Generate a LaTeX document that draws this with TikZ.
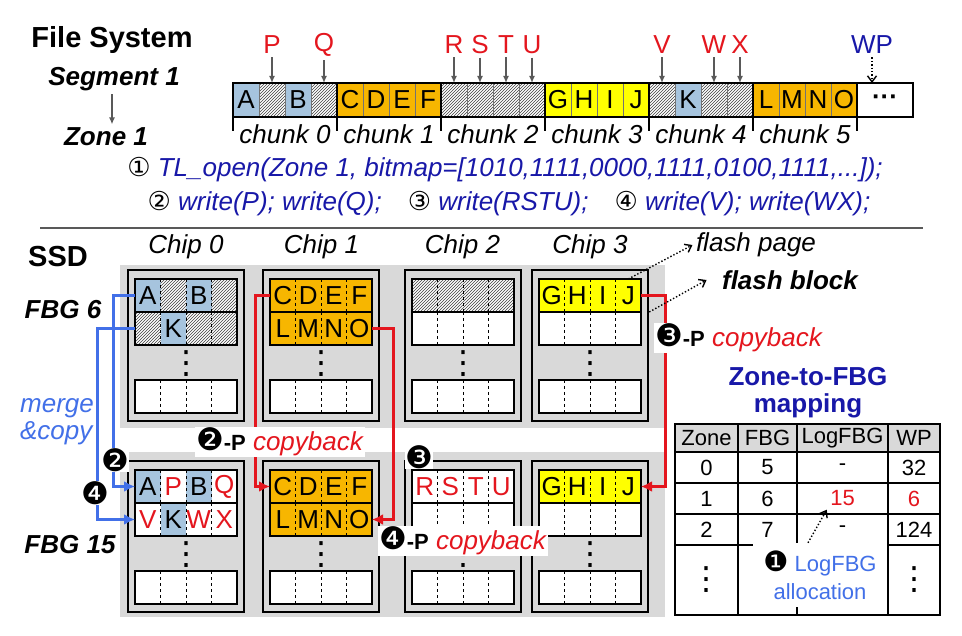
\documentclass[tikz,border=0pt]{standalone}
\usepackage{fontspec}
\setmainfont{Liberation Sans}
\newfontfamily\symf{DejaVu Sans}
\usetikzlibrary{arrows.meta,patterns}

\definecolor{cblue}{RGB}{166,196,222}
\definecolor{corange}{RGB}{247,182,0}
\definecolor{cyellow}{RGB}{255,255,0}
\definecolor{cband}{RGB}{217,217,217}
\definecolor{cred}{RGB}{228,22,30}
\definecolor{cnavy}{RGB}{24,24,168}
\definecolor{cmerge}{RGB}{66,112,232}

\newcommand\fsz{\fontsize{26}{27}\selectfont}
\newcommand\vdts{{\fontsize{32}{32}\selectfont\symf ⋮}}

\tikzset{
  cell/.style={minimum width=25.5, minimum height=33, inner sep=0, outer sep=0, font=\fsz},
  bcell/.style={cell, draw=black!55, line width=1pt, minimum width=26, minimum height=34},
  bl/.style={fill=cblue},
  or/.style={fill=corange},
  ye/.style={fill=cyellow},
  em/.style={fill=white},
  rd/.style={fill=white, text=cred},
  ht/.style={preaction={fill=white}, pattern=north east lines, pattern color=black!75},
  block/.style={draw, line width=2.5pt, minimum width=116, minimum height=151, inner sep=0},
  title/.style={font=\fontsize{29}{30}\selectfont\bfseries},
  bi/.style={font=\fsz\bfseries\itshape},
  it/.style={font=\fsz\itshape},
  garrow/.style={draw=black!65, line width=1.4pt, -{Latex[length=7pt,width=6pt]}},
  dotarr/.style={dotted, line width=1.4pt, -{Straight Barb[length=6pt,width=9pt]}},
  bluearr/.style={draw=cmerge, line width=3pt, -{Latex[length=11pt,width=11pt]}},
  redarr/.style={draw=cred, line width=3pt, -{Latex[length=11pt,width=11pt]}},
  num/.style={font=\fontsize{31}{31}\selectfont\symf, fill=white, inner sep=0},
  cbk/.style={fill=white, inner sep=1pt},
  tline/.style={line width=1.5pt},
  tcell/.style={font=\fontsize{22}{24}\selectfont},
}

% one row of four flash pages: name, x left, y top, cells
\newcommand\pagerow[4]{%
  \foreach \lbl/\sty [count=\i] in {#4}
    \node[cell,\sty] (#1-\i) at ({#2+(\i-0.5)*25.5},{#3+16.5}) {\lbl};
  \foreach \i in {1,2,3}
    \draw[dashed, line width=0.8pt] (#1-\i.north east) -- (#1-\i.south east);
  \draw[line width=1.5pt] (#1-1.north west) rectangle (#1-4.south east);
}

% one flash block with two used rows, dots and a last row
\newcommand\flashblk[5]{%
  \node[block] (#1) at ({#2+58},{#3+75.5}) {};
  \pagerow{#1a}{#2+7}{#3+9}{#4}
  \pagerow{#1b}{#2+7}{#3+42}{#5}
  \node[inner sep=0] (#1d) at ({#2+58},{#3+94}) {\vdts};
  \pagerow{#1c}{#2+7}{#3+110}{/em,/em,/em,/em}
}

\begin{document}
\begin{tikzpicture}[x=1pt, y=-1pt, font=\fsz]
        \useasboundingbox (0,0) rectangle (962,636);
        \fill[white] (0,0) rectangle (962,636);

        % File system side
        \node[title] (fs) at (112,40) {File System};
        \node[bi] (seg) at (114,79) {Segment 1};
        \node[bi] (zn) at (106,137) {Zone 1};
        \draw[garrow] ([xshift=-2pt]seg.south) -- ([xshift=6pt]zn.north);

        % Segment (chunks)
        \foreach \lbl/\sty [count=\i] in {A/bl,/ht,B/bl,/ht,C/or,D/or,E/or,F/or,/ht,/ht,/ht,/ht,G/ye,H/ye,I/ye,J/ye,/ht,K/bl,/ht,/ht,L/or,M/or,N/or,O/or}
          \node[bcell,\sty] (b\i) at ({233+(\i-0.5)*26},100) {\lbl};
        \node[bcell, fill=white, minimum width=56] (bdots) at (885,100) {\textbf{···}};
        \draw[line width=1.8pt] (b1.north west) rectangle (bdots.south east);
        \foreach \i in {1,5,9,13,17,21}
          \draw[line width=1.8pt] (b\i.north west) -- (b\i.south west) -- ++(0,14);
        \draw[line width=1.8pt] (b24.north east) -- (b24.south east) -- ++(0,14);
        \foreach \k in {0,...,5}
          \node[it] (ck\k) at ({285+104*\k},134) {chunk \k};

        % Writes
        \foreach \lbl/\c in {P/2,Q/4,R/9,S/10,T/11,U/12,V/17,W/19,X/20}{
          \node[text=cred] (l\lbl) at ({233+(\c-0.5)*26},45) {\lbl};
          \draw[garrow] (l\lbl) -- (b\c.north);
        }
        \node[text=cnavy] (wp) at (872,45) {WP};
        \draw[dotarr] (wp.south) -- (wp.south |- bdots.north);

        % Commands
        \node (op1) at (505,170) {{\symf ①} \textcolor{cnavy}{\textit{TL\_open(Zone 1, bitmap=[1010,1111,0000,1111,0100,1111,...]);}}};
        \node (op2) at (509,204) {{\symf ②} \textcolor{cnavy}{\textit{write(P); write(Q);}}\quad{\symf ③} \textcolor{cnavy}{\textit{write(RSTU);}}\quad{\symf ④} \textcolor{cnavy}{\textit{write(V); write(WX);}}};

        \draw[line width=2pt, black!65] (40,228) -- (923,228);

        % SSD side
        \node[title] (ssd) at (58,257) {SSD};
        \fill[cband] (120,265) rectangle (665,428);
        \fill[cband] (120,452) rectangle (665,617);
        \foreach \k/\x in {0/186,1/321.5,2/462.5,3/590}
          \node[it] (cl\k) at (\x,247) {Chip \k};
        \node[bi] (g6) at (63,310) {FBG 6};
        \node[bi] (g15) at (70,545) {FBG 15};

        % FBG 6
        \flashblk{t0}{128}{270}{A/bl,/ht,B/bl,/ht}{/ht,K/bl,/ht,/ht}
        \flashblk{t1}{263}{270}{C/or,D/or,E/or,F/or}{L/or,M/or,N/or,O/or}
        \flashblk{t2}{405}{270}{/ht,/ht,/ht,/ht}{/em,/em,/em,/em}
        \flashblk{t3}{532}{270}{G/ye,H/ye,I/ye,J/ye}{/em,/em,/em,/em}
        % FBG 15
        \flashblk{u0}{128}{461}{A/bl,P/rd,B/bl,Q/rd}{V/rd,K/bl,W/rd,X/rd}
        \flashblk{u1}{263}{461}{C/or,D/or,E/or,F/or}{L/or,M/or,N/or,O/or}
        \flashblk{u2}{405}{461}{R/rd,S/rd,T/rd,U/rd}{/em,/em,/em,/em}
        \flashblk{u3}{532}{461}{G/ye,H/ye,I/ye,J/ye}{/em,/em,/em,/em}

        % merge & copy
        \draw[bluearr] (t0a-1.west) -- ++(-22,0) |- (u0a-1.west);
        \draw[bluearr] (t0b-1.west) -- ++(-38,0) |- (u0b-1.west);
        \node[font=\fsz\itshape, text=cmerge, align=left] (mc) at (57,422) {merge\\\&copy};
        \node[num] (n2) at (115,460) {❷};
        \node[num] (n4) at (95,493) {❹};

        % copyback
        \draw[redarr] (t1a-1.west) -- ++(-15,0) |- (u1a-1.west);
        \draw[redarr] (t1b-4.east) -- ++(21,0) |- (u1b-4.east);
        \draw[redarr] (t3a-4.east) -- ++(24,0) |- (u3a-4.east);
        \node[cbk] (cb2) at (280,442) {{\fontsize{31}{31}\selectfont\symf ❷}{\fontsize{22}{24}\selectfont\bfseries -P} \textcolor{cred}{\textit{copyback}}};
        \node[cbk] (cb3) at (739,338) {{\fontsize{31}{31}\selectfont\symf ❸}{\fontsize{22}{24}\selectfont\bfseries -P} \textcolor{cred}{\textit{copyback}}};
        \node[cbk] (cb4) at (463,541) {{\fontsize{31}{31}\selectfont\symf ❹}{\fontsize{22}{24}\selectfont\bfseries -P} \textcolor{cred}{\textit{copyback}}};
        \node[num] (n3) at (419,457) {❸};

        % flash page / block
        \node[it] (fp) at (756,245) {flash page};
        \node[bi] (fb) at (790,280) {flash block};
        \draw[dotarr] (t3a-4.north) -- (fp.west);
        \draw[dotarr] (t3.east |- t3a-4.south) -- ([xshift=-12pt]fb.west);

        % Zone-to-FBG mapping
        \node[font=\fsz\bfseries, text=cnavy, align=center] (mt) at (808,393) {Zone-to-FBG\\mapping};
        \fill[cband] (675,424) rectangle (940,452);
        \foreach \y in {452,483,514,545}
          \draw[tline] (675,\y) -- (940,\y);
        \foreach \x in {738,797,888}
          \draw[tline] (\x,424) -- (\x,615);
        \draw[tline] (675,424) rectangle (940,615);
        \foreach \y/\a/\b/\c/\d [count=\r] in {438/Zone/FBG/LogFBG/WP, 467.5/0/5/-/32, 498.5/1/6/{\textcolor{cred}{15}}/{\textcolor{cred}{6}}, 529.5/2/7/-/124}{
          \node[tcell] (tz\r) at (706.5,\y) {\a};
          \node[tcell] (tf\r) at (767.5,\y) {\b};
          \node[tcell] (tl\r) at (842.5,\y) {\c};
          \node[tcell] (tw\r) at (914,\y) {\d};
        }
        \node[inner sep=0] (tz5) at (706.5,580) {\vdts};
        \node[inner sep=0] (tw5) at (914,580) {\vdts};
        \node[fill=white, text=cmerge, align=center, minimum width=134, minimum height=64, inner sep=1pt, font=\fontsize{22}{28}\selectfont] (al) at (820,575) {{\fontsize{28}{28}\selectfont\symf\color{black}❶} LogFBG\\allocation};
        \draw[dotarr] ([xshift=-12pt]al.north) -- (tl3.south west);

\end{tikzpicture}
\end{document}
